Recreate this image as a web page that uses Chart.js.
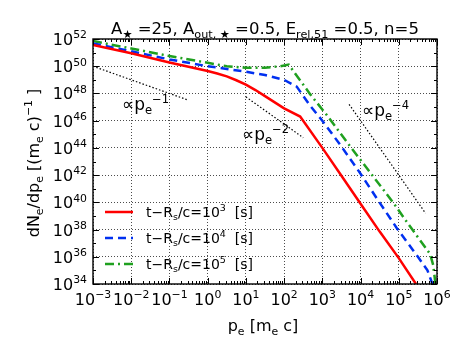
<!DOCTYPE html>
<html><head><meta charset="utf-8">
<script src="https://cdn.jsdelivr.net/npm/chart.js@4/dist/chart.umd.min.js"></script>
<style>html,body{margin:0;padding:0;background:#fff;overflow:hidden}</style>
</head><body>
<canvas id="c" width="474" height="355"></canvas>
<script>
// ---- data (log10 values) ----
const X_TICK_EXP = [-3,-2,-1,0,1,2,3,4,5,6];
const Y_TICK_EXP = [34,36,38,40,42,44,46,48,50,52];

const redLogP  = [-3, -2, -1, 0, 0.25, 0.5, 0.75, 1, 1.25, 1.5, 2, 2.42, 3, 3.5, 4, 4.5, 5, 5.45];
const redLogN  = [51.56, 50.95, 50.28, 49.65, 49.47, 49.25, 48.97, 48.65, 48.25, 47.8, 46.9, 46.3, 44.0, 41.95, 39.9, 37.85, 35.9, 34.0];

const blueLogP = [-3, -2, -1, 0, 0.5, 1, 1.5, 2, 2.33, 2.68, 3, 3.5, 4, 4.47, 4.95, 5.5, 5.75, 5.88];
const blueLogN = [51.68, 51.1, 50.5, 50.0, 49.8, 49.6, 49.35, 49.0, 48.5, 47.1, 46.0, 44.1, 42.1, 40.1, 38.1, 36.0, 35.0, 34.0];

const greenLogP = [-3, -2, -1, 0, 0.5, 1, 1.5, 1.9, 2.12, 2.68, 3.12, 3.73, 4.29, 4.85, 5.25, 5.82, 5.9, 5.96];
const greenLogN = [51.85, 51.3, 50.75, 50.25, 50.0, 49.88, 49.88, 50.0, 50.12, 47.95, 46.4, 44.1, 42.05, 40.0, 38.4, 36.2, 35.4, 34.0];

const ref1LogP = [-3, -0.5];  const ref1LogN = [50.0, 47.5];
const ref2LogP = [1.0, 2.5];  const ref2LogN = [47.75, 44.75];
const ref3LogP = [3.7, 5.7];  const ref3LogN = [47.2, 39.2];

const legendExp = ['3','4','5'];

function pts(lp, ln){ return lp.map((v,i)=>({x:Math.pow(10,v), y:Math.pow(10,ln[i])})); }

// ---- rich text helper ----
const FAM = '"DejaVu Sans", sans-serif';
function segW(ctx, segs, size){
  let w=0; for(const [t,m] of segs){ ctx.font = (m? size*0.68 : size)+'px '+FAM; w+=ctx.measureText(t).width; } return w;
}
function drawRich(ctx, segs, x, y, size, align){
  const w = segW(ctx, segs, size);
  let cx = align==='center'? x-w/2 : align==='right'? x-w : x;
  ctx.textAlign='left'; ctx.textBaseline='alphabetic';
  for(const [t,m] of segs){
    ctx.font = (m? size*0.68 : size)+'px '+FAM;
    const dy = m===1 ? -size*0.42 : m===-1 ? size*0.22 : 0;
    ctx.fillText(t, cx, y+dy);
    cx += ctx.measureText(t).width;
  }
}

const deco = {
  id:'deco',
  afterDraw(chart){
    const ctx = chart.ctx, a = chart.chartArea, xs = chart.scales.x, ys = chart.scales.y;
    ctx.save();
    ctx.fillStyle='#000'; ctx.strokeStyle='#000';
    // ticks
    ctx.lineWidth=1;
    ctx.beginPath();
    for(let d=-3; d<=6; d++){
      const px = Math.round(xs.getPixelForValue(Math.pow(10,d)))+0.5;
      ctx.moveTo(px,a.bottom); ctx.lineTo(px,a.bottom-6);
      ctx.moveTo(px,a.top); ctx.lineTo(px,a.top+6);
      if(d<6) for(let k=2;k<=9;k++){
        const p = Math.round(xs.getPixelForValue(k*Math.pow(10,d)))+0.5;
        ctx.moveTo(p,a.bottom); ctx.lineTo(p,a.bottom-3);
        ctx.moveTo(p,a.top); ctx.lineTo(p,a.top+3);
      }
    }
    for(let e=34;e<=52;e++){
      const py = Math.round(ys.getPixelForValue(Math.pow(10,e)))+0.5;
      const L = (e%2===0)?6:3;
      ctx.moveTo(a.left,py); ctx.lineTo(a.left+L,py);
      ctx.moveTo(a.right,py); ctx.lineTo(a.right-L,py);
    }
    ctx.stroke();
    // frame
    ctx.lineWidth=1.4;
    ctx.strokeRect(a.left, a.top, a.right-a.left, a.bottom-a.top);
    // tick labels
    for(const d of X_TICK_EXP){
      const px = xs.getPixelForValue(Math.pow(10,d));
      drawRich(ctx, [['10',0],[(d<0?'\u2212'+(-d):String(d)),1]], px, 305, 16, 'center');
    }
    for(const e of Y_TICK_EXP){
      const py = ys.getPixelForValue(Math.pow(10,e));
      drawRich(ctx, [['10',0],[String(e),1]], 87, py+6, 16, 'right');
    }
    // title
    drawRich(ctx, [['A',0],['\u2605',-1],[' =25, A',0],['out, \u2605',-1],[' =0.5, E',0],['rel,51',-1],[' =0.5, n=5',0]], 265, 34, 16.5, 'center');
    // x label
    drawRich(ctx, [['p',0],['e',-1],[' [m',0],['e',-1],[' c]',0]], 263, 331, 16, 'center');
    // y label
    ctx.save(); ctx.translate(39,163); ctx.rotate(-Math.PI/2);
    drawRich(ctx, [['dN',0],['e',-1],['/dp',0],['e',-1],[' [(m',0],['e',-1],[' c)',0],['\u22121',1],[' ]',0]], 0, 0, 16, 'center');
    ctx.restore();
    // annotations
    drawRich(ctx, [['\u221dp',0],['e',-1],['\u22121',1]], 122, 110, 17, 'left');
    drawRich(ctx, [['\u221dp',0],['e',-1],['\u22122',1]], 242, 140, 17, 'left');
    drawRich(ctx, [['\u221dp',0],['e',-1],['\u22124',1]], 362, 116, 17, 'left');
    // legend
    const rows = [{c:'#ff0000',d:[]},{c:'#0030f0',d:[8,5]},{c:'#1fa01f',d:[9,4,2,4]}];
    rows.forEach((r,i)=>{
      const y = 212 + i*26;
      ctx.save(); ctx.strokeStyle=r.c; ctx.lineWidth=2.5; ctx.setLineDash(r.d);
      ctx.beginPath(); ctx.moveTo(105,y); ctx.lineTo(133,y); ctx.stroke(); ctx.restore();
      ctx.fillStyle='#000';
      drawRich(ctx, [['t\u2212R',0],['s',-1],['/c=10',0],[legendExp[i],1],['  [s]',0]], 146, y+5, 14, 'left');
    });
    ctx.restore();
  }
};

const lineDS = (lp, ln, color, dash, w) => ({
  data: pts(lp, ln), borderColor: color, borderDash: dash, borderWidth: w,
  showLine: true, pointRadius: 0, fill: false, tension: 0, clip: 0
});

new Chart(document.getElementById('c'), {
  type: 'scatter',
  data: { datasets: [
    lineDS(redLogP, redLogN, '#ff0000', [], 2.5),
    lineDS(blueLogP, blueLogN, '#0030f0', [8,5], 2.5),
    lineDS(greenLogP, greenLogN, '#1fa01f', [9,4,2,4], 2.5),
    lineDS(ref1LogP, ref1LogN, '#000', [1.5,2], 1.2),
    lineDS(ref2LogP, ref2LogN, '#000', [1.5,2], 1.2),
    lineDS(ref3LogP, ref3LogN, '#000', [1.5,2], 1.2)
  ]},
  options: {
    responsive: false, animation: false, devicePixelRatio: 1,
    layout: { padding: { left: 93, right: 37, top: 39, bottom: 71 } },
    plugins: { legend: { display: false }, title: { display: false }, tooltip: { enabled: false } },
    scales: {
      x: { type: 'logarithmic', min: 1e-3, max: 1e6,
        afterBuildTicks: s => { s.ticks = X_TICK_EXP.map(d => ({ value: Math.pow(10, d) })); },
        ticks: { display: false }, grid: { color: 'rgba(0,0,0,0.7)', lineWidth: 1, drawTicks: false },
        border: { display: false, dash: [1, 2] } },
      y: { type: 'logarithmic', min: 1e34, max: 1e52,
        afterBuildTicks: s => { s.ticks = Y_TICK_EXP.map(e => ({ value: Math.pow(10, e) })); },
        ticks: { display: false }, grid: { color: 'rgba(0,0,0,0.7)', lineWidth: 1, drawTicks: false },
        border: { display: false, dash: [1, 2] } }
    }
  },
  plugins: [deco]
});
</script>
</body></html>
